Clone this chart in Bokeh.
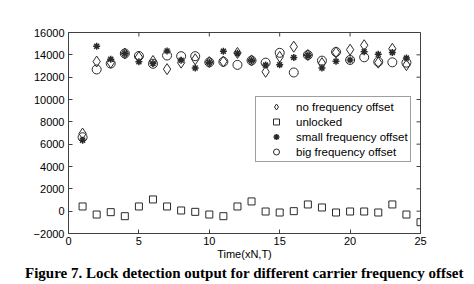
import math
from bokeh.plotting import figure
from bokeh.models import Range1d, Legend, LegendItem, FixedTicker, Label, Title
from bokeh.embed import file_html
from bokeh.resources import INLINE

# ---- data ----
x_top = list(range(1, 25))
no_offset = [6950, 13400, 13300, 14120, 13800, 13450, 12720, 13300, 13600, 13350,
             13400, 14170, 13500, 12480, 13820, 14730, 13980, 13250, 14220, 14460,
             14860, 13300, 14540, 13080]
small_offset = [6350, 14770, 13600, 14120, 13380, 13220, 14350, 13520, 12820, 13320,
                14320, 14150, 13500, 13080, 13120, 13770, 13970, 12820, 13420, 13540,
                14280, 14050, 14220, 13710]
big_offset = [6620, 12690, 13220, 14120, 13900, 13200, 13940, 13880, 13880, 13330,
              13380, 13100, 13490, 13300, 14180, 12420, 13980, 13480, 14260, 13540,
              13780, 13380, 13330, 13300]
x_unlocked = list(range(1, 26))
unlocked = [420, -300, -90, -450, 420, 1050, 420, 60, -60, -300,
            -450, 420, 870, -30, -120, 0, 600, 330, -120, -30,
            -30, -120, 600, -300, -990]

x_ticks = [0, 5, 10, 15, 20, 25]
y_ticks = [-2000, 0, 2000, 4000, 6000, 8000, 10000, 12000, 14000, 16000]
X_MIN, X_MAX = 0, 25
Y_MIN, Y_MAX = -2000, 16000

FONT = "Liberation Sans"
MK = "#2a2a2a"
AX = "#404040"

W, H = 474, 284
BL, BR, BT, BB = 68, 54, 32, 51
p = figure(width=W, height=H, output_backend="svg", toolbar_location=None,
           x_range=Range1d(X_MIN, X_MAX), y_range=Range1d(Y_MIN, Y_MAX),
           min_border_left=BL, min_border_right=BR, min_border_top=BT, min_border_bottom=BB,
           background_fill_color="white", border_fill_color="white")
p.grid.visible = False
p.outline_line_color = AX

for ax in (p.xaxis[0], p.yaxis[0]):
    ax.axis_line_color = AX
    ax.major_tick_line_color = AX
    ax.major_tick_in = 4
    ax.major_tick_out = 0
    ax.minor_tick_line_color = None
    ax.major_label_text_font = FONT
    ax.major_label_text_font_size = "11px"
    ax.major_label_text_color = "black"
    ax.major_label_standoff = 4
    ax.axis_label_text_font = FONT
    ax.axis_label_text_font_size = "11px"
    ax.axis_label_text_font_style = "normal"
    ax.axis_label_text_color = "black"

p.xaxis.ticker = FixedTicker(ticks=x_ticks)
p.yaxis.ticker = FixedTicker(ticks=y_ticks)
p.xaxis.axis_label = "Time(xN,T)"
p.xaxis.axis_label_standoff = 0
p.xaxis.major_label_standoff = 3

# pixel -> data helpers for placing texts outside the frame
frame_w = W - BL - BR
frame_h = H - BT - BB
px_x = (X_MAX - X_MIN) / frame_w
px_y = (Y_MAX - Y_MIN) / frame_h

# inward ticks on the top and right edges (box on), from the tick lists
p.segment(x0=x_ticks, y0=[Y_MAX] * len(x_ticks), x1=x_ticks, y1=[Y_MAX - 4 * px_y] * len(x_ticks),
          line_color=AX, line_width=1)
p.segment(x0=[X_MAX] * len(y_ticks), y0=y_ticks, x1=[X_MAX - 4 * px_x] * len(y_ticks), y1=y_ticks,
          line_color=AX, line_width=1)

# y-axis title (slightly below the frame centre, as in the reference)
ylab = Label(x=X_MIN - 46 * px_x, y=Y_MAX - (141 - BT) * px_y,
             text="ator output signal (Zk)", angle=math.pi / 2,
             text_align="center", text_baseline="middle",
             text_font=FONT, text_font_size="11px", text_color="black")
p.add_layout(ylab)

r_no = p.scatter(x_top, no_offset, marker="diamond", size=11, fill_color=None,
                 line_color=MK, line_width=1)
r_un = p.scatter(x_unlocked, unlocked, marker="square", size=7, fill_color=None,
                 line_color=MK, line_width=1)
r_sm = p.scatter(x_top, small_offset, marker="asterisk", size=7,
                 line_color=MK, line_width=1.5)
r_bg = p.scatter(x_top, big_offset, marker="circle", size=9, fill_color=None,
                 line_color=MK, line_width=1)

legend = Legend(items=[
    LegendItem(label="no frequency offset", renderers=[r_no]),
    LegendItem(label="unlocked", renderers=[r_un]),
    LegendItem(label="small frequency offset", renderers=[r_sm]),
    LegendItem(label="big frequency offset", renderers=[r_bg]),
], location=(187, 71), orientation="vertical")
legend.label_text_font = FONT
legend.label_text_font_size = "11.5px"
legend.label_text_color = "black"
legend.label_height = 15
legend.glyph_height = 15
legend.glyph_width = 36
legend.label_standoff = 2
legend.spacing = 0
legend.padding = 2
legend.margin = 0
legend.border_line_color = AX
legend.border_line_width = 1
legend.background_fill_color = "white"
legend.background_fill_alpha = 1
p.add_layout(legend, "center")

# figure caption under the axes
cap = Title(text="Figure 7. Lock detection output for different carrier frequency offset",
            align="center", text_font="Liberation Serif", text_font_size="15px",
            text_font_style="bold", text_color="black", standoff=0,
            text_line_height=0.8)
p.add_layout(cap, "below")

open("out.html", "w").write(file_html(p, INLINE))
